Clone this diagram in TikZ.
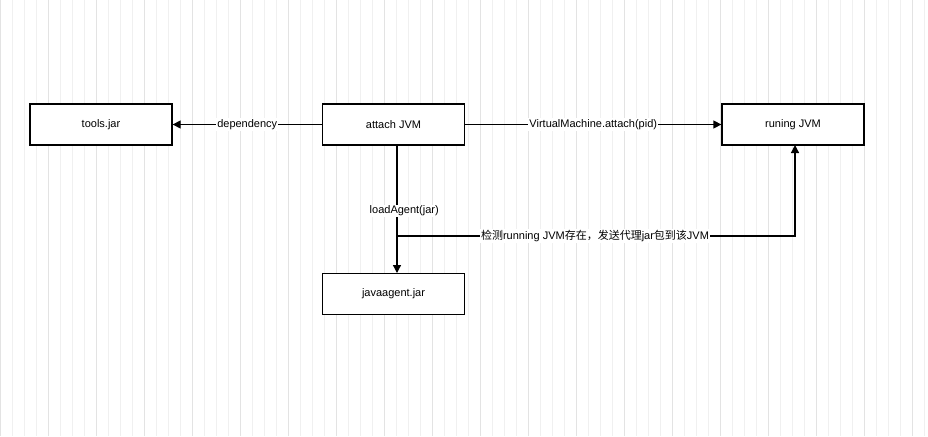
\documentclass[tikz,border=0pt]{standalone}
\usepackage{fontspec}
\setmainfont{Liberation Sans}
\newfontfamily\cjk{Noto Sans CJK SC}
\usetikzlibrary{arrows.meta}
\begin{document}
\begin{tikzpicture}[x=1pt,y=-1pt,
  box/.style={draw=black,line width=1.3pt,minimum width=142pt,minimum height=41pt,font=\fontsize{11}{13}\selectfont,fill=white},
  conn/.style={line width=1.3pt,-{Triangle[length=8pt,width=8pt]}},
  lbl/.style={fill=white,inner sep=1pt,font=\fontsize{11}{13}\selectfont}]
\useasboundingbox (0,0) rectangle (928,436);
\fill[white] (0,0) rectangle (928,436);
\draw[black!6,line width=0.4pt] (0,0) grid[step=12] (928,436);
\draw[black!11,line width=0.5pt] (0,0) grid[step=48] (928,436);
\node[box] (tools) at (101,124.5) {tools.jar};
\node[box] (attach) at (393.5,124.5) {attach JVM};
\node[box] (run) at (793,124.5) {runing JVM};
\node[box] (agent) at (393.5,294) {javaagent.jar};
\coordinate (b) at (397,236);
\draw[conn] (attach) -- node[lbl]{dependency} (tools);
\draw[conn] (attach) -- node[lbl]{VirtualMachine.attach(pid)} (run);
\draw[conn] (397,145) -- (397,273);
\node[lbl,anchor=east] at (440,211) {loadAgent(jar)};
\draw[conn] (b) -- (795,236) -- (795,145);
\node[lbl] at (595,236) {{\cjk 检测}running JVM{\cjk 存在，发送代理}jar{\cjk 包到该}JVM};
\end{tikzpicture}
\end{document}
